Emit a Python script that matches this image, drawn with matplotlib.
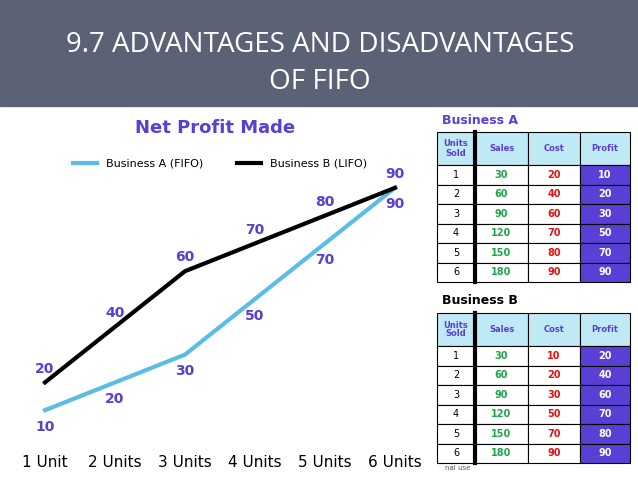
import matplotlib.pyplot as plt
from matplotlib.patches import Rectangle

units = ["1 Unit", "2 Units", "3 Units", "4 Units", "5 Units", "6 Units"]
profit_a = [10, 20, 30, 50, 70, 90]
profit_b = [20, 40, 60, 70, 80, 90]
units_sold = [1, 2, 3, 4, 5, 6]
sales = [30, 60, 90, 120, 150, 180]
cost_a = [20, 40, 60, 70, 80, 90]
cost_b = [10, 20, 30, 50, 70, 90]

W, H = 638, 479
purple = "#5a3fd6"
fig = plt.figure(figsize=(W / 100, H / 100), dpi=100)

# background overlay in pixel coords
bg = fig.add_axes([0, 0, 1, 1])
bg.set_xlim(0, W)
bg.set_ylim(H, 0)
bg.axis("off")
bg.add_patch(Rectangle((0, 0), W, 106, color="#5b6276"))
bg.text(320, 45, "9.7 ADVANTAGES AND DISADVANTAGES", color="white", fontsize=20,
        ha="center", va="center", fontfamily="Open Sans")
bg.text(320, 82, "OF FIFO", color="white", fontsize=20,
        ha="center", va="center", fontfamily="Open Sans")
bg.text(215, 128, "Net Profit Made", color=purple, fontsize=13, fontweight="bold",
        ha="center", va="center")
bg.text(445, 468, "nal use", fontsize=5, color="#555555", va="center")


def draw_table(top, title, cost):
    bg.text(442, top - 12, title, color=purple if title == "Business A" else "black",
            fontsize=9, fontweight="bold", va="center")
    cols = [437, 475, 528, 580, 630]
    hh, rh = 33, 19.5
    heads = ["Units\nSold", "Sales", "Cost", "Profit"]
    for j, h in enumerate(heads):
        bg.add_patch(Rectangle((cols[j], top), cols[j + 1] - cols[j], hh,
                               facecolor="#bfeaf5", edgecolor="black", lw=0.8))
        bg.text((cols[j] + cols[j + 1]) / 2, top + hh / 2, h, fontsize=6,
                fontweight="bold", color=purple, ha="center", va="center", linespacing=1)
    profit = [s - c for s, c in zip(sales, cost)]
    for i in range(len(units_sold)):
        y = top + hh + i * rh
        vals = [units_sold[i], sales[i], cost[i], profit[i]]
        colors = ["black", "#1fa64a", "#e81010", "white"]
        for j in range(4):
            fc = "#5a3fd6" if j == 3 else "white"
            bg.add_patch(Rectangle((cols[j], y), cols[j + 1] - cols[j], rh,
                                   facecolor=fc, edgecolor="black", lw=0.8))
            bg.text((cols[j] + cols[j + 1]) / 2, y + rh / 2, str(vals[j]), fontsize=7,
                    fontweight="normal" if j == 0 else "bold", color=colors[j],
                    ha="center", va="center")
    bg.plot([cols[1], cols[1]], [top, top + hh + 6 * rh], color="black", lw=3)


draw_table(132, "Business A", cost_a)
draw_table(313, "Business B", cost_b)

ax = fig.add_axes([10 / W, 41 / H, 420 / W, 278 / H])
x = range(len(units))
ax.plot(x, profit_a, color="#5bbde6", lw=3, label="Business A (FIFO)")
ax.plot(x, profit_b, color="black", lw=3, label="Business B (LIFO)")
for i in x:
    ax.annotate(str(profit_a[i]), (i, profit_a[i]), xytext=(0, -12), textcoords="offset points",
                ha="center", va="center", color=purple, fontsize=10, fontweight="bold")
    ax.annotate(str(profit_b[i]), (i, profit_b[i]), xytext=(0, 10), textcoords="offset points",
                ha="center", va="center", color=purple, fontsize=10, fontweight="bold")
ax.set_xlim(-0.5, 5.5)
ax.set_ylim(0, 100)
ax.set_xticks(list(x))
ax.set_xticklabels(units, fontsize=11)
ax.set_yticks([])
ax.tick_params(axis="x", length=0, pad=12)
for s in ax.spines.values():
    s.set_visible(False)
ax.patch.set_alpha(0)
ax.legend(loc="upper center", bbox_to_anchor=(0.5, 1.04), ncol=2, frameon=False,
          fontsize=8, handlelength=2.2, columnspacing=3)

fig.savefig("out.png", dpi=100)
